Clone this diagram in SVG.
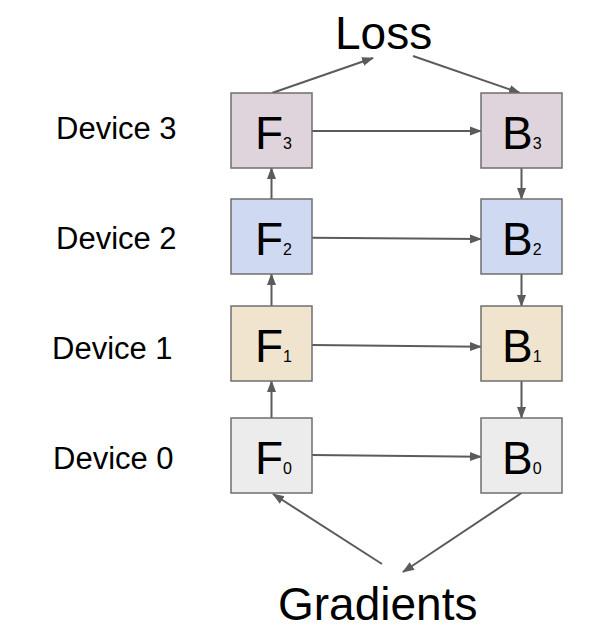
<svg xmlns="http://www.w3.org/2000/svg" width="596" height="644" viewBox="0 0 596 644">
  <defs>
    <style>
      .box { stroke: #6f6f6f; stroke-width: 1.5; }
      .r3 { fill: #dfd3dc; }
      .r2 { fill: #cfd9f2; }
      .r1 { fill: #f1e4cf; }
      .r0 { fill: #ececec; }
      .big { font-family: "Liberation Sans", Arial, sans-serif; font-size: 46px; fill: #000; }
      .sub { font-size: 16px; }
      .dev { font-family: "Liberation Sans", Arial, sans-serif; font-size: 31px; fill: #000; }
      .conn line { stroke: #5b5b5b; stroke-width: 2; marker-end: url(#arr); }
    </style>
    <marker id="arr" markerUnits="userSpaceOnUse" markerWidth="12" markerHeight="10" refX="11" refY="5" orient="auto">
      <path d="M0,0.5 L12,5 L0,9.5 z" fill="#5b5b5b"/>
    </marker>
  </defs>
  <rect width="596" height="644" fill="#ffffff"/>

  <g id="labels">
    <text class="big" x="335" y="49">Loss</text>
    <text class="big" x="278" y="620">Gradients</text>
    <text class="dev" x="56" y="139">Device 3</text>
    <text class="dev" x="56" y="249">Device 2</text>
    <text class="dev" x="52" y="359">Device 1</text>
    <text class="dev" x="53" y="469">Device 0</text>
  </g>

  <g class="conn" id="connectors">
    <line x1="272" y1="93" x2="373" y2="58"/>
    <line x1="413" y1="56" x2="520" y2="93"/>
    <line x1="312" y1="131" x2="481" y2="131"/>
    <line x1="312" y1="237.7" x2="481" y2="239"/>
    <line x1="312" y1="345" x2="481" y2="346.7"/>
    <line x1="312" y1="455" x2="481" y2="456.7"/>
    <line x1="271.5" y1="199" x2="271.5" y2="168"/>
    <line x1="271.5" y1="306" x2="271.5" y2="274"/>
    <line x1="271.5" y1="418" x2="271.5" y2="381"/>
    <line x1="521.5" y1="168" x2="521.5" y2="199"/>
    <line x1="521.5" y1="274" x2="521.5" y2="306"/>
    <line x1="521.5" y1="381" x2="521.5" y2="418"/>
    <line x1="382" y1="564" x2="273" y2="494"/>
    <line x1="521.5" y1="493" x2="403" y2="572"/>
  </g>

  <g id="F3"><rect class="box r3" x="231" y="93" width="81" height="75"/><text class="big" x="255" y="149">F<tspan class="sub">3</tspan></text></g>
  <g id="B3"><rect class="box r3" x="481" y="93" width="81" height="75"/><text class="big" x="502" y="149">B<tspan class="sub">3</tspan></text></g>
  <g id="F2"><rect class="box r2" x="231" y="199" width="81" height="75"/><text class="big" x="255" y="255">F<tspan class="sub">2</tspan></text></g>
  <g id="B2"><rect class="box r2" x="481" y="199" width="81" height="75"/><text class="big" x="502" y="255">B<tspan class="sub">2</tspan></text></g>
  <g id="F1"><rect class="box r1" x="231" y="306" width="81" height="75"/><text class="big" x="255" y="362">F<tspan class="sub">1</tspan></text></g>
  <g id="B1"><rect class="box r1" x="481" y="306" width="81" height="75"/><text class="big" x="502" y="362">B<tspan class="sub">1</tspan></text></g>
  <g id="F0"><rect class="box r0" x="231" y="418" width="81" height="75"/><text class="big" x="255" y="474">F<tspan class="sub">0</tspan></text></g>
  <g id="B0"><rect class="box r0" x="481" y="418" width="81" height="75"/><text class="big" x="502" y="474">B<tspan class="sub">0</tspan></text></g>
</svg>
